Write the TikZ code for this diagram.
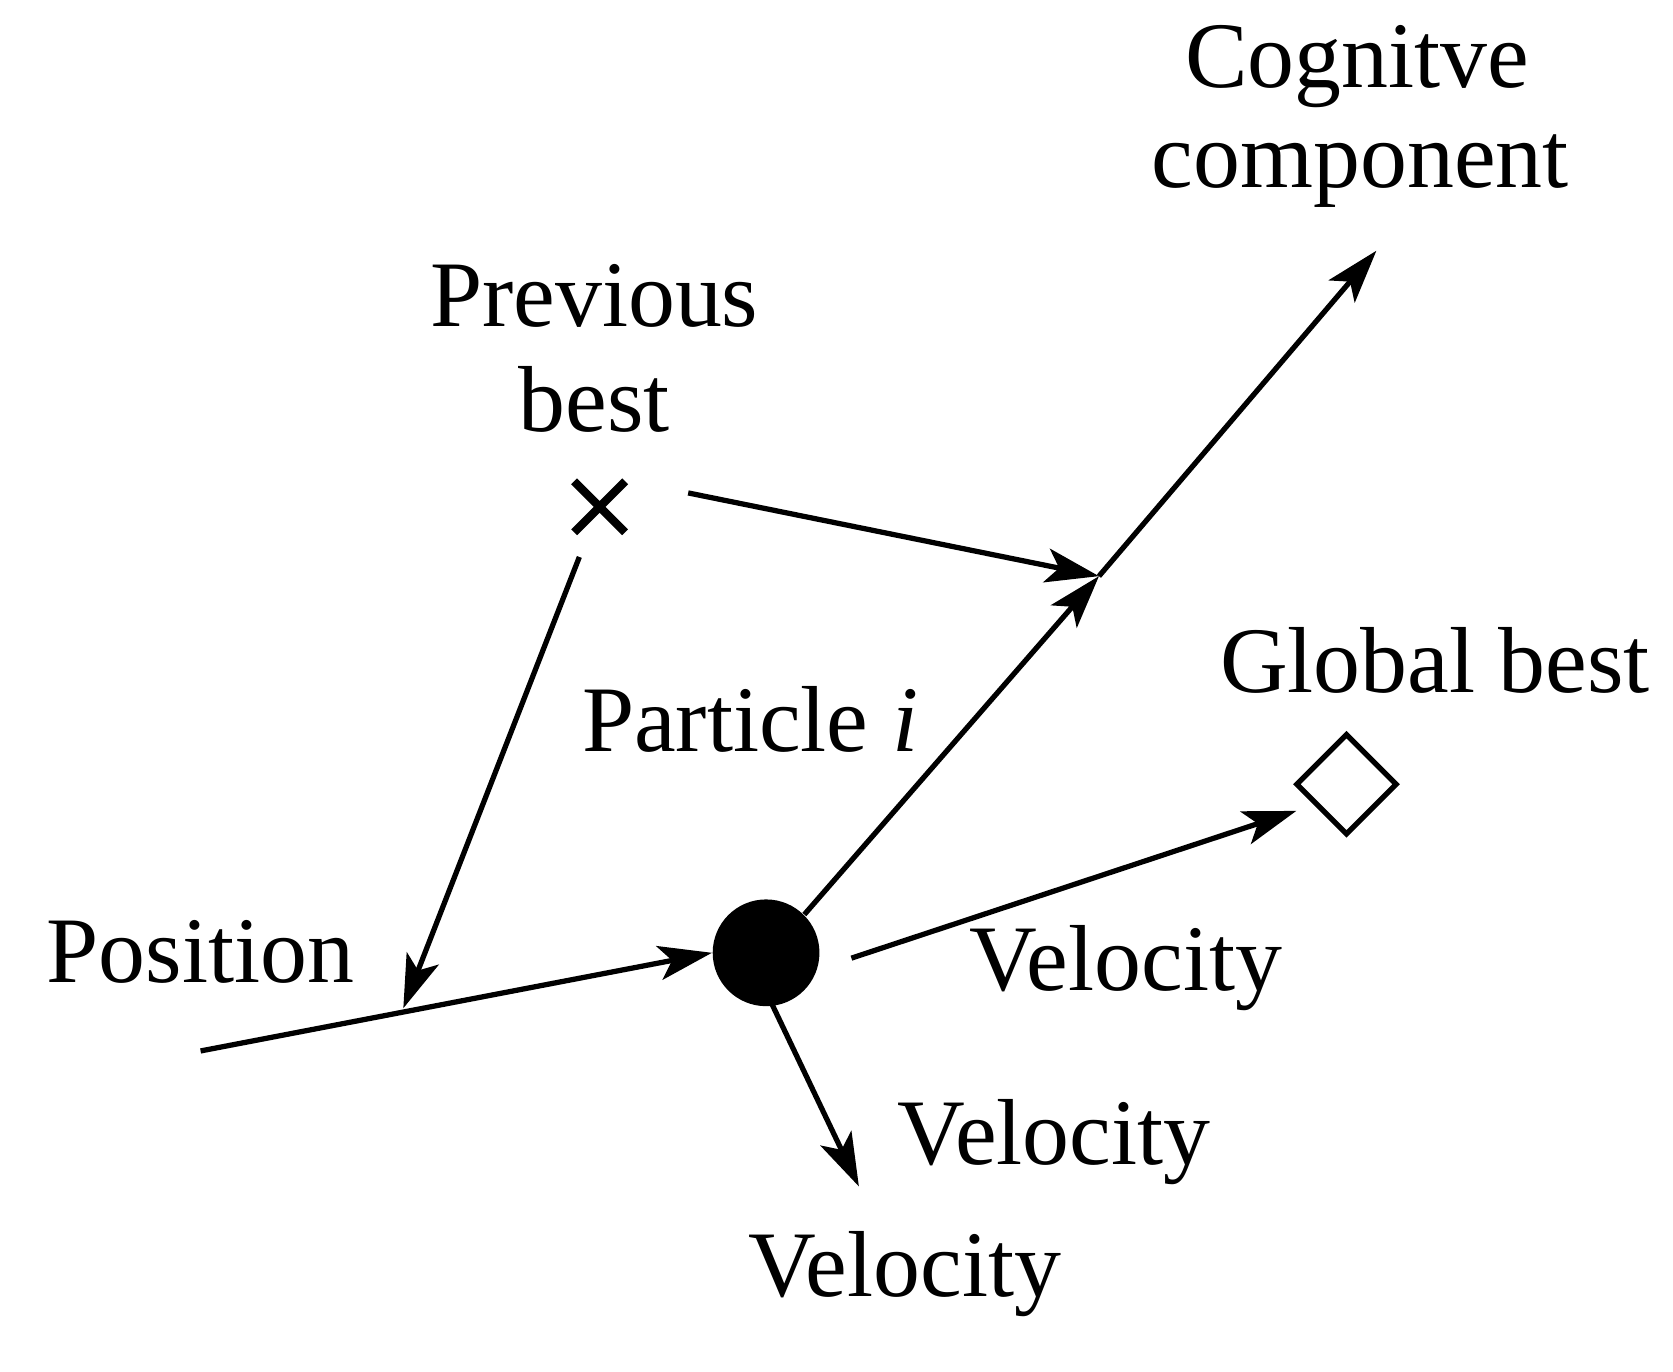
\documentclass[tikz,border=0pt]{standalone}
\usepackage{fontspec}
\setmainfont{Liberation Serif}
\usetikzlibrary{arrows.meta,shapes.geometric,shapes.misc}
\begin{document}
\begin{tikzpicture}[x=0.01cm,y=-0.01cm,
  lbl/.style={font=\fontsize{25}{30}\selectfont,inner sep=0pt},
  arr/.style={line width=1.4pt,-{Stealth[length=0.5cm,width=0.32cm,inset=0.12cm]}}]
\useasboundingbox (0,0) rectangle (1568,1285);
\node[circle,fill=black,minimum size=1cm,inner sep=0pt] (p) at (718,893) {};
\node[cross out,draw,line width=2.2pt,minimum size=0.4cm,inner sep=0pt] (pb) at (562,475) {};
\node[diamond,draw,line width=1.4pt,minimum width=0.95cm,minimum height=0.95cm,inner sep=0pt] (gb) at (1262,735) {};
\coordinate (ps) at (188,985);
\coordinate (pm) at (378,945);
\coordinate (cm) at (1030,540);
\coordinate (ct) at (1290,235);
\coordinate (pbs) at (645,462);
\coordinate (pbd) at (543,522);
\coordinate (v1s) at (798,898);
\coordinate (v1e) at (1215,760);
\coordinate (v2s) at (723,940);
\coordinate (v2e) at (805,1112);
\draw[arr] (ps) -- (p.west);
\draw[arr] (pbd) -- (pm);
\draw[arr] (pbs) -- (cm);
\draw[arr] (p.north east) -- (cm);
\draw[arr] (cm) -- (ct);
\draw[arr] (v1s) -- (v1e);
\draw[arr] (v2s) -- (v2e);
\node[lbl] (l1) at (1272,62) {Cognitve};
\node[lbl] (l2) at (1275,160) {component};
\node[lbl] (l3) at (557,277) {Previous};
\node[lbl] (l4) at (557,374) {best};
\node[lbl] (l5) at (703,674) {Particle \textit{i}};
\node[lbl] (l6) at (1345,619) {Global best};
\node[lbl] (l7) at (188,892) {Position};
\node[lbl] (l8) at (1055,907) {Velocity};
\node[lbl] (l9) at (988,1070) {Velocity};
\node[lbl] (l10) at (848,1194) {Velocity};
\end{tikzpicture}
\end{document}
